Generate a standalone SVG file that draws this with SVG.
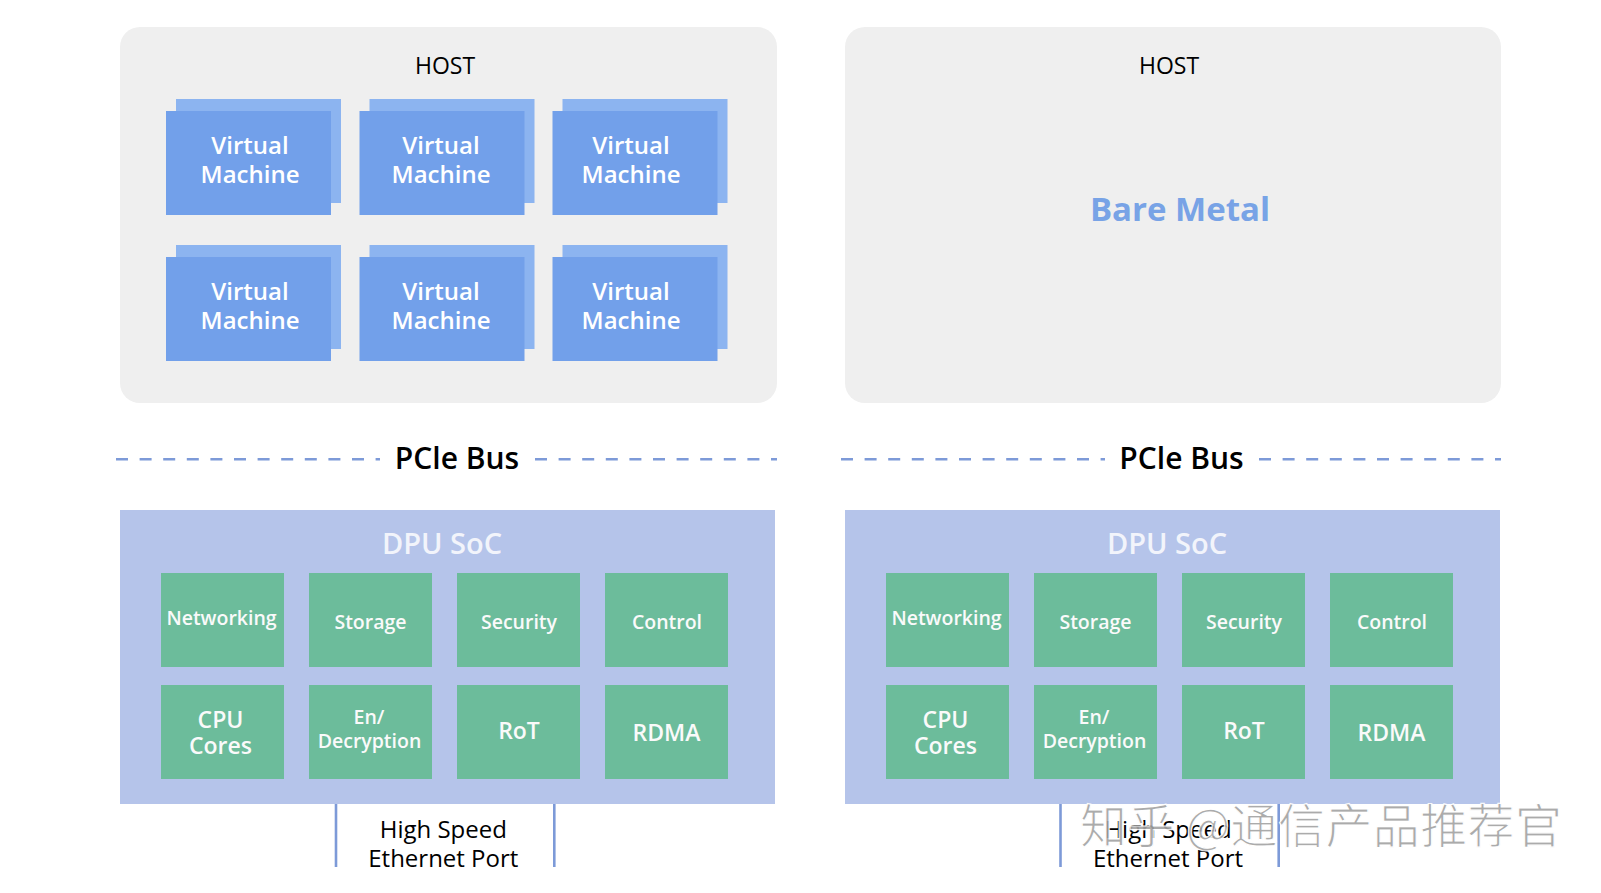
<svg xmlns="http://www.w3.org/2000/svg" width="1601" height="893" viewBox="0 0 1601 893">
<style>
text{font-family:"Open Sans","Noto Sans","Liberation Sans",sans-serif;}
.host{fill:#efefef;}
.hostt{font-size:23px;fill:#000;text-anchor:middle;}
.vmb{fill:#8cb4f0;}
.vmf{fill:#72a0ea;}
.vmt{font-size:24px;fill:#fff;text-anchor:middle;font-weight:600;}
.bm{font-size:33px;fill:#78a3e6;text-anchor:middle;font-weight:700;}
.dpu{fill:#b5c4ea;}
.dput{font-size:29px;fill:#f2f4fb;text-anchor:middle;font-weight:600;}
.g{fill:#6cbc9b;}
.gt{font-size:19.5px;fill:#fafafa;text-anchor:middle;font-weight:600;}
.gl{font-size:23px;fill:#fafafa;text-anchor:middle;font-weight:600;}
.bus{stroke:#7d9ad8;stroke-width:2.6;stroke-dasharray:12 11.6;fill:none;}
.bust{font-size:30px;fill:#000;text-anchor:middle;font-weight:600;}
.port{stroke:#7d9ad8;stroke-width:2.6;fill:none;}
.portt{font-size:24px;fill:#000;text-anchor:middle;}
.wm{font-family:"Noto Sans CJK SC","Noto Sans",sans-serif;font-size:47px;letter-spacing:0.4px;fill:#a3a3a3;stroke:#fff;stroke-width:1.2;opacity:0.9;}
</style>

<!-- Left HOST with VMs -->
<g id="host-left">
  <rect class="host" x="120" y="27" width="657" height="376" rx="20"/>
  <text class="hostt" x="445" y="74">HOST</text>
</g>
<g id="vm-1">
  <rect class="vmb" x="176" y="99" width="165" height="104"/>
  <rect class="vmf" x="166" y="111" width="165" height="104"/>
  <text class="vmt" x="250" y="154.3">Virtual</text>
  <text class="vmt" x="250" y="183.3">Machine</text>
</g>
<g id="vm-2">
  <rect class="vmb" x="369.5" y="99" width="165" height="104"/>
  <rect class="vmf" x="359.5" y="111" width="165" height="104"/>
  <text class="vmt" x="441" y="154.3">Virtual</text>
  <text class="vmt" x="441" y="183.3">Machine</text>
</g>
<g id="vm-3">
  <rect class="vmb" x="562.5" y="99" width="165" height="104"/>
  <rect class="vmf" x="552.5" y="111" width="165" height="104"/>
  <text class="vmt" x="631" y="154.3">Virtual</text>
  <text class="vmt" x="631" y="183.3">Machine</text>
</g>
<g id="vm-4">
  <rect class="vmb" x="176" y="245" width="165" height="104"/>
  <rect class="vmf" x="166" y="257" width="165" height="104"/>
  <text class="vmt" x="250" y="300.3">Virtual</text>
  <text class="vmt" x="250" y="329.3">Machine</text>
</g>
<g id="vm-5">
  <rect class="vmb" x="369.5" y="245" width="165" height="104"/>
  <rect class="vmf" x="359.5" y="257" width="165" height="104"/>
  <text class="vmt" x="441" y="300.3">Virtual</text>
  <text class="vmt" x="441" y="329.3">Machine</text>
</g>
<g id="vm-6">
  <rect class="vmb" x="562.5" y="245" width="165" height="104"/>
  <rect class="vmf" x="552.5" y="257" width="165" height="104"/>
  <text class="vmt" x="631" y="300.3">Virtual</text>
  <text class="vmt" x="631" y="329.3">Machine</text>
</g>

<!-- Right HOST bare metal -->
<g id="host-right">
  <rect class="host" x="845" y="27" width="656" height="376" rx="20"/>
  <text class="hostt" x="1169" y="74">HOST</text>
  <text class="bm" x="1180" y="221">Bare Metal</text>
</g>

<!-- Connectors: PCIe bus lines and port lines -->
<g id="connectors">
  <line class="bus" x1="116" y1="459.3" x2="380" y2="459.3"/>
  <line class="bus" x1="535" y1="459.3" x2="777" y2="459.3"/>
  <line class="bus" x1="841" y1="459.3" x2="1105" y2="459.3"/>
  <line class="bus" x1="1259" y1="459.3" x2="1501" y2="459.3"/>
  <line class="port" x1="336" y1="804" x2="336" y2="867"/>
  <line class="port" x1="554.3" y1="804" x2="554.3" y2="867"/>
  <line class="port" x1="1060.5" y1="804" x2="1060.5" y2="867"/>
  <line class="port" x1="1278.7" y1="804" x2="1278.7" y2="867"/>
</g>
<g id="bus-label-left"><text class="bust" x="457" y="469.3">PCle Bus</text></g>
<g id="bus-label-right"><text class="bust" x="1181.5" y="469.3">PCle Bus</text></g>

<!-- Left DPU -->
<g id="dpu-left">
  <rect class="dpu" x="120" y="510" width="655" height="294"/>
  <text class="dput" x="442" y="554">DPU SoC</text>
</g>
<g id="l-networking"><rect class="g" x="161" y="573" width="123" height="94"/><text class="gt" x="221.5" y="625">Networking</text></g>
<g id="l-storage"><rect class="g" x="309" y="573" width="123" height="94"/><text class="gt" x="370.5" y="628.5">Storage</text></g>
<g id="l-security"><rect class="g" x="457" y="573" width="123" height="94"/><text class="gt" x="519" y="628.5">Security</text></g>
<g id="l-control"><rect class="g" x="605" y="573" width="123" height="94"/><text class="gt" x="667" y="628.5">Control</text></g>
<g id="l-cpu"><rect class="g" x="161" y="685" width="123" height="94"/><text class="gl" x="220.5" y="728.3">CPU</text><text class="gl" x="220.5" y="754">Cores</text></g>
<g id="l-crypto"><rect class="g" x="309" y="685" width="123" height="94"/><text class="gt" x="369" y="724.3">En/</text><text class="gt" x="369.5" y="747.7">Decryption</text></g>
<g id="l-rot"><rect class="g" x="457" y="685" width="123" height="94"/><text class="gl" x="519" y="739.3">RoT</text></g>
<g id="l-rdma"><rect class="g" x="605" y="685" width="123" height="94"/><text class="gl" x="666.5" y="741">RDMA</text></g>
<g id="port-left">
  <text class="portt" x="443.3" y="838.3">High Speed</text>
  <text class="portt" x="443.3" y="867.3">Ethernet Port</text>
</g>

<!-- Right DPU -->
<g id="dpu-right">
  <rect class="dpu" x="845" y="510" width="655" height="294"/>
  <text class="dput" x="1167" y="554">DPU SoC</text>
</g>
<g id="r-networking"><rect class="g" x="886" y="573" width="123" height="94"/><text class="gt" x="946.5" y="625">Networking</text></g>
<g id="r-storage"><rect class="g" x="1034" y="573" width="123" height="94"/><text class="gt" x="1095.5" y="628.5">Storage</text></g>
<g id="r-security"><rect class="g" x="1182" y="573" width="123" height="94"/><text class="gt" x="1244" y="628.5">Security</text></g>
<g id="r-control"><rect class="g" x="1330" y="573" width="123" height="94"/><text class="gt" x="1392" y="628.5">Control</text></g>
<g id="r-cpu"><rect class="g" x="886" y="685" width="123" height="94"/><text class="gl" x="945.5" y="728.3">CPU</text><text class="gl" x="945.5" y="754">Cores</text></g>
<g id="r-crypto"><rect class="g" x="1034" y="685" width="123" height="94"/><text class="gt" x="1094" y="724.3">En/</text><text class="gt" x="1094.5" y="747.7">Decryption</text></g>
<g id="r-rot"><rect class="g" x="1182" y="685" width="123" height="94"/><text class="gl" x="1244" y="739.3">RoT</text></g>
<g id="r-rdma"><rect class="g" x="1330" y="685" width="123" height="94"/><text class="gl" x="1391.5" y="741">RDMA</text></g>
<g id="port-right">
  <text class="portt" x="1168" y="838.3">High Speed</text>
  <text class="portt" x="1168" y="867.3">Ethernet Port</text>
</g>

<g id="watermark"><text class="wm" x="1080" y="843">知乎 @通信产品推荐官</text></g>
</svg>
